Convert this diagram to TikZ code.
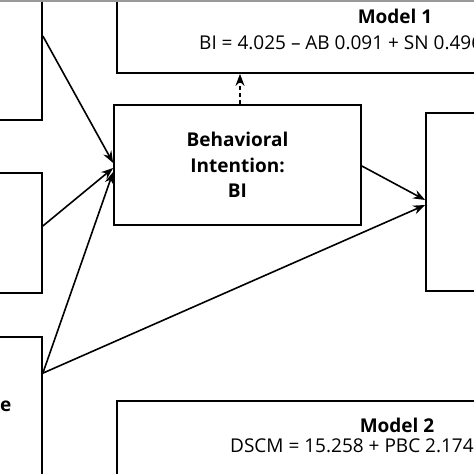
\documentclass[tikz,border=0pt]{standalone}
\usepackage{fontspec}
\setmainfont{Open Sans}
\usepackage{tikz}
\usetikzlibrary{
        arrows.meta,
        positioning
    }
\tikzset{>={Stealth[length=12pt,width=9pt]},auto}
\tikzset{box/.style={draw=black,line width=1.7pt,rectangle,inner sep=0pt}}
\tikzset{link/.style={->,line width=1.6pt,shorten >=0pt}}
\tikzset{head/.style={font=\fontsize{19}{25}\selectfont\bfseries}}

\begin{document}
\begin{tikzpicture}[x=1pt,y=-1pt,font=\fontsize{19}{25}\selectfont]
                \useasboundingbox (0,0) rectangle (474,474);
                \clip (0,0) rectangle (474,474);
                \node[box,minimum width=140pt,minimum height=170pt] (att) at (-28,35) {};
                \node[box,minimum width=140pt,minimum height=120pt] (sn) at (-28,233) {};
                \node[box,minimum width=140pt,minimum height=190pt] (pbc) at (-28,432) {};
                \node[head,anchor=west,inner sep=0pt] (pbctxt) at (0,406) {e};
                \node[box,minimum width=443pt,minimum height=72pt] (m1) at (338.5,37) {};
                \node[head] (m1head) at (395,16) {Model 1};
                \node[anchor=west,inner sep=0pt] (m1eq) at (199,43) {BI = 4.025 -- AB 0.091 + SN 0.496};
                \node[box,minimum width=247pt,minimum height=120pt,align=center,
                      font=\fontsize{19}{25.5}\selectfont\bfseries] (bi) at (237.5,165)
                      {Behavioral\\Intention:\\BI};
                \node[box,minimum width=114pt,minimum height=178pt] (dscm) at (483,202) {};
                \node[box,minimum width=443pt,minimum height=140pt] (m2) at (338.5,471) {};
                \node[head] (m2head) at (397,425) {Model 2};
                \node[anchor=west,inner sep=0pt] (m2eq) at (230,446) {DSCM = 15.258 + PBC 2.174};
                % paths
                \draw[link] ([yshift=-1pt]att.east) -- ([yshift=2pt]bi.west);
                \draw[link] ([yshift=7pt]sn.east) -- ([yshift=-3pt]bi.west);
                \draw[link] ([yshift=-37pt]pbc.north east) -- ([yshift=-7pt]bi.west);
                \draw[link] ([yshift=-37pt]pbc.north east) -- ([yshift=-3pt]dscm.west);
                \draw[link] ([yshift=-1pt]bi.east) -- ([yshift=2pt]dscm.west);
                \draw[link,dash pattern=on 4pt off 3pt] ([xshift=2.5pt]bi.north) -- ([xshift=2.5pt]bi.north |- m1.south);
                \draw[gray!80,line width=2pt] (0,0.5) -- (474,0.5);
            \end{tikzpicture}
\end{document}
